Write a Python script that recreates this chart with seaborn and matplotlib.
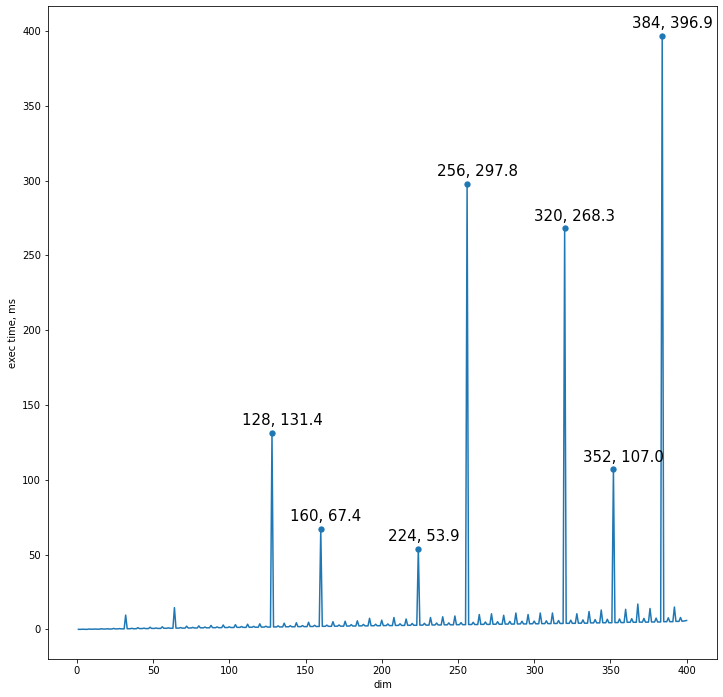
#!/usr/bin/env python3
"""Execution time vs matrix dimension, with the slow dims labelled."""

import matplotlib
matplotlib.use("Agg")
import matplotlib.pyplot as plt
import seaborn as sns

# dims 1..400, one row per block of 8 dims
dims = list(range(1, 401))
exec_ms = [
    0.1, 0.1, 0.1, 0.2, 0.1, 0.1, 0.1, 0.3,
    0.2, 0.2, 0.2, 0.3, 0.2, 0.2, 0.2, 0.5,
    0.3, 0.3, 0.3, 0.5, 0.3, 0.3, 0.3, 0.7,
    0.4, 0.4, 0.4, 0.6, 0.4, 0.4, 0.4, 9.6,
    0.5, 0.5, 0.5, 0.8, 0.5, 0.5, 0.5, 1.2,
    0.6, 0.6, 0.6, 0.9, 0.6, 0.6, 0.6, 1.5,
    0.7, 0.7, 0.7, 1.0, 0.7, 0.7, 0.7, 1.8,
    0.8, 0.8, 0.8, 1.1, 0.8, 0.8, 0.8, 14.6,
    0.9, 0.9, 0.9, 1.3, 0.9, 0.9, 0.9, 2.2,
    1.0, 1.0, 1.0, 1.4, 1.0, 1.0, 1.0, 2.4,
    1.1, 1.1, 1.1, 1.6, 1.1, 1.1, 1.1, 2.7,
    1.2, 1.2, 1.2, 1.7, 1.2, 1.2, 1.2, 3.0,
    1.3, 1.3, 1.3, 1.8, 1.3, 1.3, 1.3, 3.2,
    1.4, 1.4, 1.4, 2.0, 1.4, 1.4, 1.4, 3.5,
    1.5, 1.5, 1.5, 2.1, 1.5, 1.5, 1.5, 3.8,
    1.6, 1.6, 1.6, 2.2, 1.6, 1.6, 1.6, 131.4,
    1.7, 1.7, 1.7, 2.4, 1.7, 1.7, 1.7, 4.2,
    1.8, 1.8, 1.8, 2.5, 1.8, 1.8, 1.8, 4.5,
    1.9, 1.9, 1.9, 2.6, 1.9, 1.9, 1.9, 4.8,
    2.0, 2.0, 2.0, 2.8, 2.0, 2.0, 2.0, 67.4,
    2.1, 2.1, 2.1, 2.9, 2.1, 2.1, 2.1, 5.2,
    2.2, 2.2, 2.2, 3.0, 2.2, 2.2, 2.2, 5.5,
    2.3, 2.3, 2.3, 3.2, 2.3, 2.3, 2.3, 5.8,
    2.4, 2.4, 2.4, 3.4, 2.4, 2.4, 2.4, 7.5,
    2.5, 2.5, 2.5, 3.5, 2.5, 2.5, 2.5, 6.2,
    2.6, 2.6, 2.6, 3.7, 2.6, 2.6, 2.6, 8.0,
    2.7, 2.7, 2.7, 3.8, 2.7, 2.7, 2.7, 7.0,
    2.8, 2.8, 2.8, 4.0, 2.8, 2.8, 2.8, 53.9,
    2.9, 2.9, 2.9, 4.1, 2.9, 2.9, 2.9, 8.0,
    3.0, 3.0, 3.0, 4.3, 3.0, 3.0, 3.0, 8.5,
    3.1, 3.1, 3.1, 4.4, 3.1, 3.1, 3.1, 9.0,
    3.2, 3.2, 3.2, 4.6, 3.2, 3.2, 3.2, 297.8,
    3.3, 3.3, 3.3, 4.8, 3.3, 3.3, 3.3, 10.0,
    3.4, 3.4, 3.4, 5.0, 3.4, 3.4, 3.4, 10.5,
    3.5, 3.5, 3.5, 5.2, 3.5, 3.5, 3.5, 9.5,
    3.6, 3.6, 3.6, 5.4, 3.6, 3.6, 3.6, 11.0,
    3.7, 3.7, 3.7, 5.5, 3.7, 3.7, 3.7, 10.0,
    3.8, 3.8, 3.8, 5.6, 3.8, 3.8, 3.8, 11.0,
    3.9, 3.9, 3.9, 5.8, 3.9, 3.9, 3.9, 11.0,
    4.0, 4.0, 4.0, 6.0, 4.0, 4.0, 4.0, 268.3,
    4.1, 4.1, 4.1, 6.2, 4.1, 4.1, 4.1, 10.5,
    4.2, 4.2, 4.2, 6.4, 4.2, 4.2, 4.2, 12.0,
    4.4, 4.4, 4.4, 6.6, 4.4, 4.4, 4.4, 13.0,
    4.5, 4.5, 4.5, 6.8, 4.5, 4.5, 4.5, 107.0,
    4.6, 4.6, 4.6, 7.0, 4.6, 4.6, 4.6, 13.5,
    4.8, 4.8, 4.8, 7.2, 4.8, 4.8, 4.8, 17.0,
    4.9, 4.9, 4.9, 7.4, 4.9, 4.9, 4.9, 14.0,
    5.0, 5.0, 5.0, 7.6, 5.0, 5.0, 5.0, 396.9,
    5.2, 5.2, 5.2, 7.8, 5.2, 5.2, 5.2, 15.0,
    5.4, 5.4, 5.4, 8.0, 5.5, 5.6, 5.8, 6.0,
]

# labelled outliers
peak_dims = [128, 160, 224, 256, 320, 352, 384]
peak_ms = [131.4, 67.4, 53.9, 297.8, 268.3, 107.0, 396.9]


def main():
    fig = plt.figure(figsize=(723 / 72, 697 / 72), dpi=72)
    ax = fig.add_axes([48 / 723, 1 - 659 / 697, 669 / 723, 653 / 697])

    sns.lineplot(x=dims, y=exec_ms, ax=ax, color="C0", linewidth=1.5)
    sns.scatterplot(x=peak_dims, y=peak_ms, ax=ax, color="C0", s=40,
                    linewidth=0, zorder=3)

    for d, ms in zip(peak_dims, peak_ms):
        ax.text(d - 20, ms + 5, f"{d}, {ms:.1f}", fontsize=15)

    ax.set_xlabel("dim")
    ax.set_ylabel("exec time, ms")

    fig.savefig("out.png", dpi=72)
    plt.close(fig)


if __name__ == "__main__":
    main()
